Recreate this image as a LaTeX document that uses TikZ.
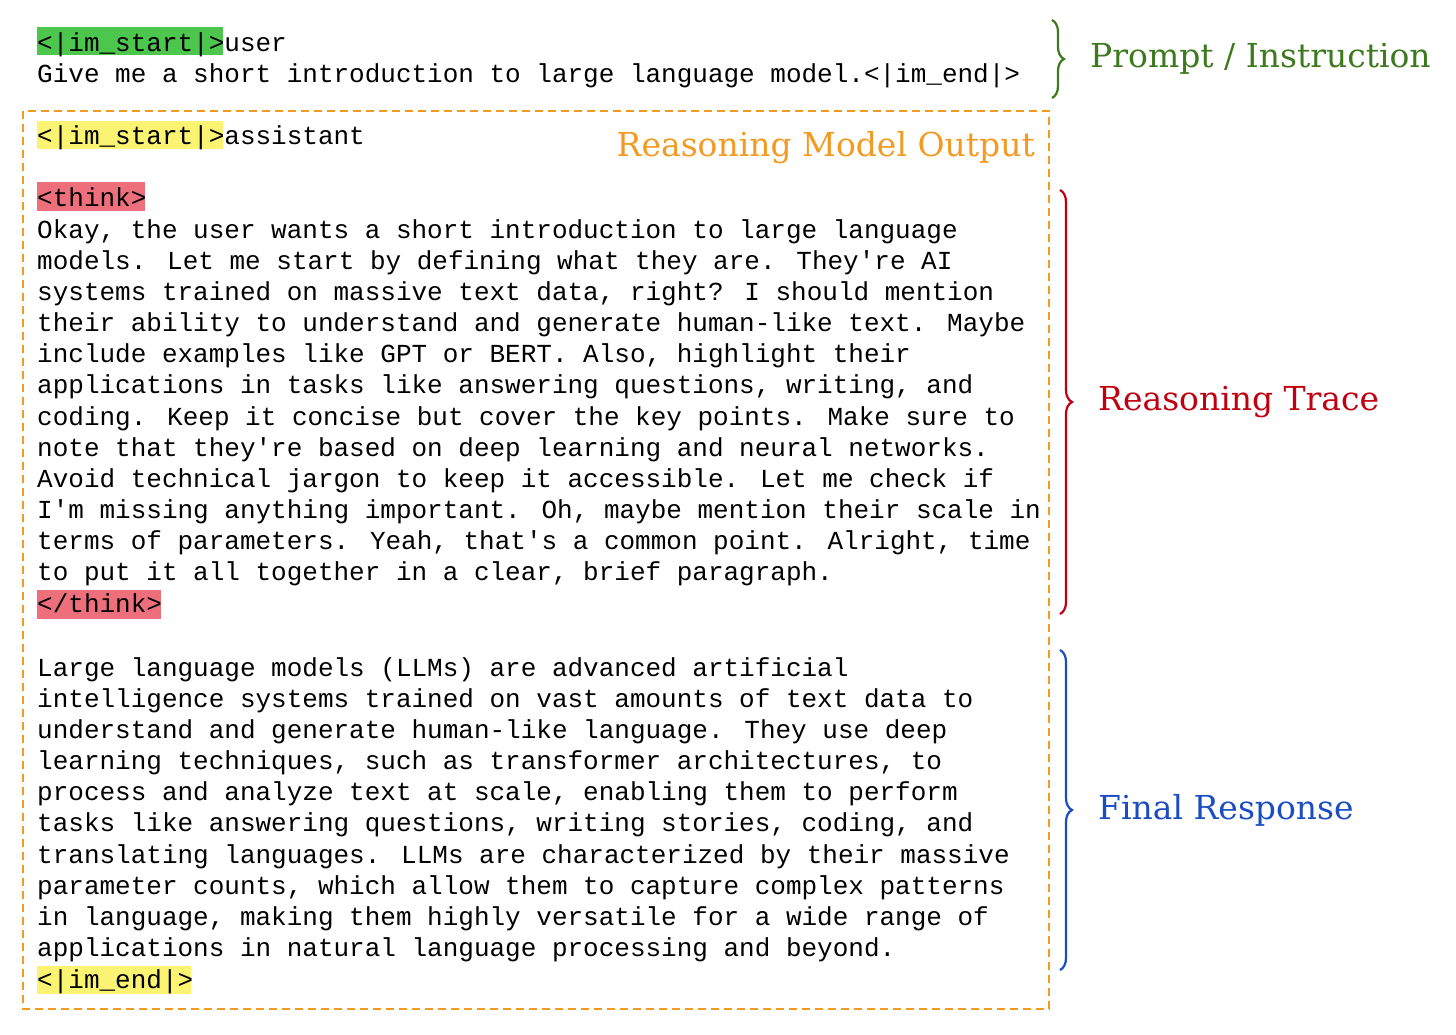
\documentclass[tikz,border=0pt]{standalone}
\usepackage{fontspec}
\setmainfont{DejaVu Serif}
\newfontfamily\mono{Liberation Mono}
\usetikzlibrary{decorations.pathreplacing}
\definecolor{hlg}{HTML}{4CC64C}
\definecolor{hly}{HTML}{FBF372}
\definecolor{hlr}{HTML}{EE6F7C}
\definecolor{org}{HTML}{F39A22}
\definecolor{gtx}{HTML}{3D7A1E}
\definecolor{rtx}{HTML}{C00010}
\definecolor{btx}{HTML}{1A4DC2}
\tikzset{
 txt/.style={anchor=base west,inner sep=0pt,font=\mono\fontsize{26}{31}\selectfont},
 lbl/.style={anchor=west,inner sep=0pt,font=\fontsize{33}{40}\selectfont},
 brc/.style={decorate,decoration={brace,amplitude=12pt},line width=2.2pt}
}
\newcommand\tline[3]{\node[txt] (#1) at (37,#2) {#3};}
\begin{document}
\begin{tikzpicture}[x=1pt,y=-1pt]
\useasboundingbox (0,0) rectangle (1456,1034);
% highlights
\fill[hlg] (37,27) rectangle (223,55);
\fill[hly] (37,121) rectangle (223,149);
\fill[hlr] (37,182) rectangle (145,211);
\fill[hlr] (37,590) rectangle (161,619);
\fill[hly] (37,966) rectangle (191,994);
% box
\draw[org,line width=2pt,dash pattern=on 8pt off 5pt] (23,111) rectangle (1049,1009);
\tline{p1}{51}{<|im\_start|>user}
\tline{p2}{82}{Give me a short introduction to large language model.<|im\_end|>}
\tline{a1}{144}{<|im\_start|>assistant}
\tline{t0}{206}{<think>}
\tline{t1}{238}{Okay, the user wants a short introduction to large language}
\tline{t2}{269}{models. Let me start by defining what they are. They're AI}
\tline{t3}{300}{systems trained on massive text data, right? I should mention}
\tline{t4}{331}{their ability to understand and generate human-like text. Maybe}
\tline{t5}{362}{include examples like GPT or BERT. Also, highlight their}
\tline{t6}{393}{applications in tasks like answering questions, writing, and}
\tline{t7}{425}{coding. Keep it concise but cover the key points. Make sure to}
\tline{t8}{456}{note that they're based on deep learning and neural networks.}
\tline{t9}{487}{Avoid technical jargon to keep it accessible. Let me check if}
\tline{t10}{518}{I'm missing anything important. Oh, maybe mention their scale in}
\tline{t11}{549}{terms of parameters. Yeah, that's a common point. Alright, time}
\tline{t12}{580}{to put it all together in a clear, brief paragraph.}
\tline{t13}{612}{</think>}
\tline{f1}{676}{Large language models (LLMs) are advanced artificial}
\tline{f2}{707}{intelligence systems trained on vast amounts of text data to}
\tline{f3}{738}{understand and generate human-like language. They use deep}
\tline{f4}{769}{learning techniques, such as transformer architectures, to}
\tline{f5}{800}{process and analyze text at scale, enabling them to perform}
\tline{f6}{831}{tasks like answering questions, writing stories, coding, and}
\tline{f7}{863}{translating languages. LLMs are characterized by their massive}
\tline{f8}{894}{parameter counts, which allow them to capture complex patterns}
\tline{f9}{925}{in language, making them highly versatile for a wide range of}
\tline{f10}{956}{applications in natural language processing and beyond.}
\tline{f11}{988}{<|im\_end|>}
\node[anchor=base east,inner sep=0pt,text=org,font=\fontsize{33}{40}\selectfont] (rmo) at (1035,156) {Reasoning Model Output};
% braces
\coordinate (g1) at (1052,20); \coordinate (g2) at (1052,98);
\draw[brc,gtx] (g1) -- (g2);
\node[lbl,text=gtx] (gl) at (1090,59) {Prompt / Instruction};
\coordinate (r1) at (1060,190); \coordinate (r2) at (1060,614);
\draw[brc,rtx] (r1) -- (r2);
\node[lbl,text=rtx] (rl) at (1098,402) {Reasoning Trace};
\coordinate (b1) at (1060,650); \coordinate (b2) at (1060,970);
\draw[brc,btx] (b1) -- (b2);
\node[lbl,text=btx] (bl) at (1098,810) {Final Response};
\end{tikzpicture}
\end{document}
